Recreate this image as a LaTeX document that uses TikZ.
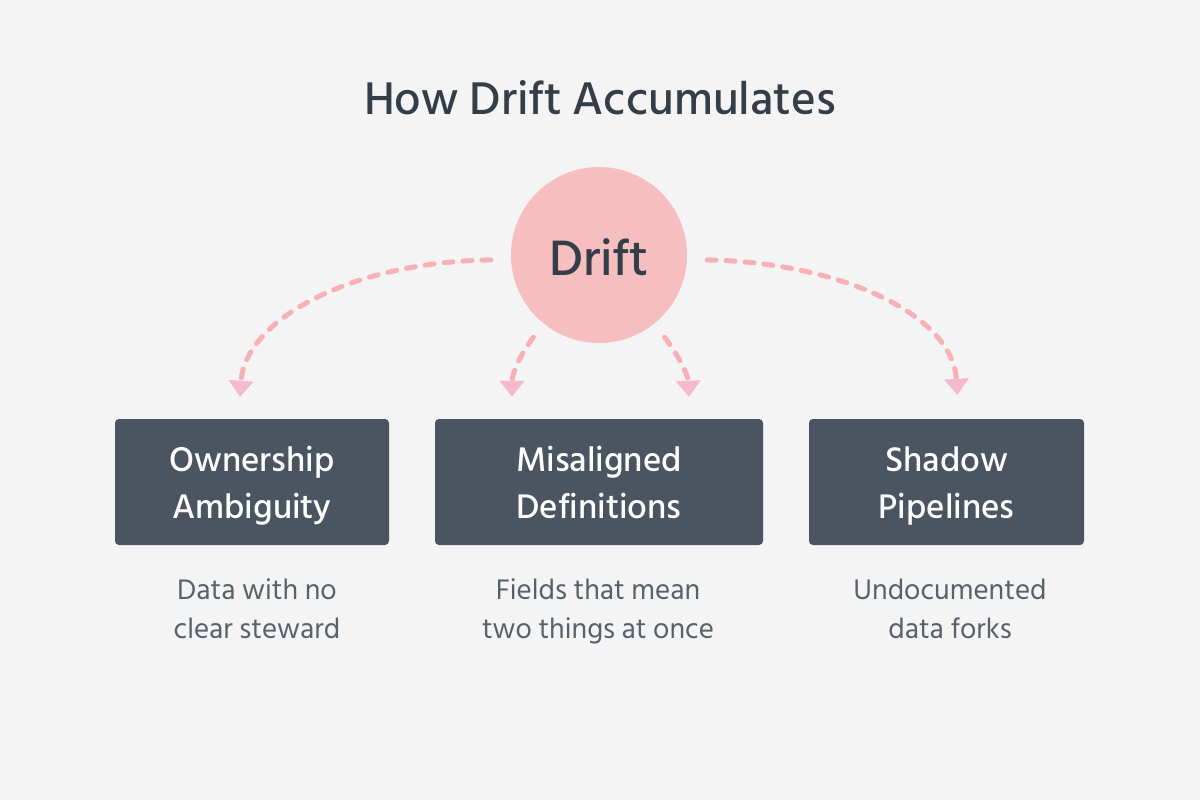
\documentclass[tikz,border=0pt]{standalone}
\usepackage{fontspec}
\setmainfont{Hind Siliguri}
\newfontfamily\medfont{Hind Siliguri Medium}
\usetikzlibrary{arrows.meta}
\definecolor{bg}{HTML}{F4F4F5}
\definecolor{ink}{HTML}{343E48}
\definecolor{descink}{HTML}{56616B}
\definecolor{boxfill}{HTML}{4B5561}
\definecolor{circfill}{HTML}{F7BEBF}
\definecolor{dashpink}{HTML}{F8B0B5}
\definecolor{headpink}{HTML}{F5B9CE}
\tikzset{
  boxnode/.style={fill=boxfill, rounded corners=4pt, minimum width=274pt, minimum height=126pt, inner sep=0pt},
  boxtext/.style={text=white, anchor=base, font=\medfont\fontsize{35}{38}\selectfont},
  desctext/.style={text=descink, anchor=base, font=\fontsize{29}{32}\selectfont},
  driftarrow/.style={draw=dashpink, line width=5pt, dash pattern=on 9pt off 10pt, line cap=round,
    -{Triangle[width=24pt,length=16pt,color=headpink]}},
}
\begin{document}
\begin{tikzpicture}[x=1pt,y=-1pt]
\fill[bg] (0,0) rectangle (1200,800);
\useasboundingbox (0,0) rectangle (1200,800);

\node[text=ink, anchor=base, font=\medfont\fontsize{47}{50}\selectfont] (title) at (600,114) {How Drift Accumulates};

\node[circle, fill=circfill, minimum size=176pt, inner sep=0pt] (drift) at (599,255) {};
\node[text=ink, anchor=base, font=\medfont\fontsize{51}{54}\selectfont] (driftlabel) at (599,275) {Drift};

\node[boxnode] (own) at (252,482) {};
\node[boxnode, minimum width=328pt] (mis) at (599,482) {};
\node[boxnode, minimum width=275pt] (sha) at (946.5,482) {};

\node[boxtext] (own1) at (252,471) {Ownership};
\node[boxtext] (own2) at (252,518) {Ambiguity};
\node[boxtext] (mis1) at (599,471) {Misaligned};
\node[boxtext] (mis2) at (599,518) {Definitions};
\node[boxtext] (sha1) at (946.5,471) {Shadow};
\node[boxtext] (sha2) at (946.5,518) {Pipelines};

\node[desctext] (ownd1) at (257,599) {Data with no};
\node[desctext] (ownd2) at (257,638) {clear steward};
\node[desctext] (misd1) at (598,599) {Fields that mean};
\node[desctext] (misd2) at (598,638) {two things at once};
\node[desctext] (shad1) at (950,599) {Undocumented};
\node[desctext] (shad2) at (950,638) {data forks};

\coordinate (t1) at ([xshift=-12pt,yshift=22pt]own.north);
\coordinate (t2) at ([xshift=-87pt,yshift=22pt]mis.north);
\coordinate (t3) at ([xshift=90pt,yshift=22pt]mis.north);
\coordinate (t4) at ([xshift=11pt,yshift=24pt]sha.north);

\draw[driftarrow, shorten <=20pt] (drift.183) .. controls (350,262) and (245,320) .. (t1);
\draw[driftarrow, shorten <=17pt] (drift.231) .. controls (518,358) and (512,375) .. (t2);
\draw[driftarrow, shorten <=17pt] (drift.309) .. controls (680,358) and (688,375) .. (t3);
\draw[driftarrow, shorten <=20pt] (drift.357) .. controls (835,262) and (952,312) .. (t4);
\end{tikzpicture}
\end{document}
